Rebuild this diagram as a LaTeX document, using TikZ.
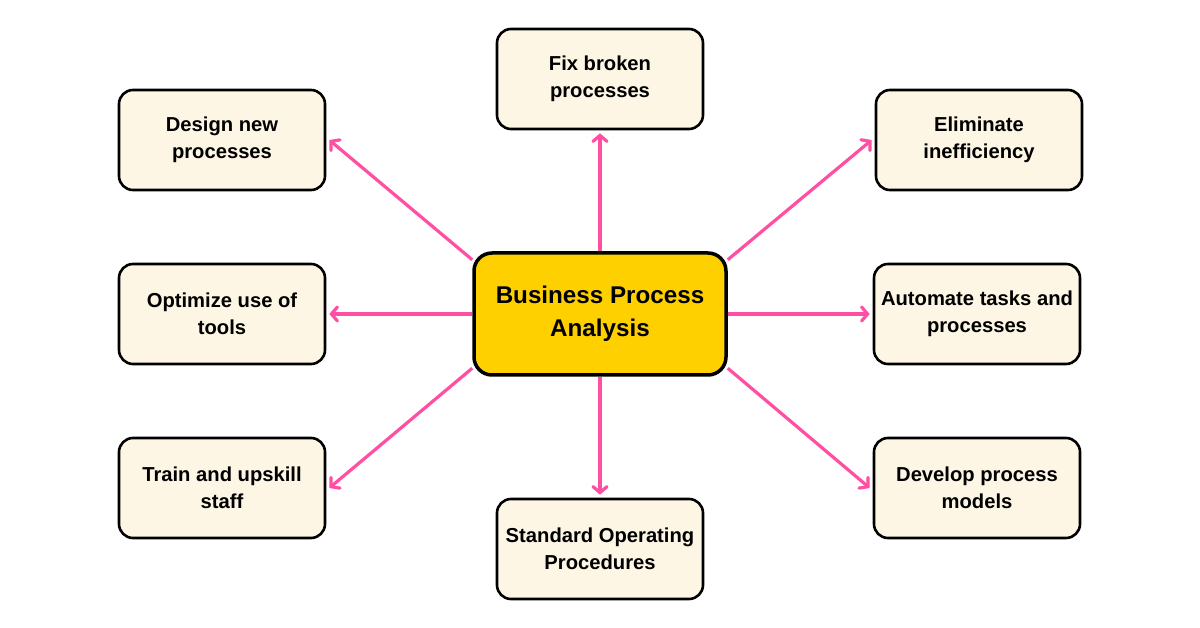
\documentclass[tikz,border=0pt]{standalone}
\usepackage{fontspec}
\setmainfont{Liberation Sans}
\usetikzlibrary{positioning, arrows.meta}

\definecolor{bpagold}{HTML}{FFD000}
\definecolor{bpacream}{HTML}{FDF6E4}
\definecolor{bpapink}{HTML}{FF4FA3}

\begin{document}
\begin{tikzpicture}
    [
        x=1pt, y=-1pt,
        node distance=174pt and 378pt, on grid,
        main_node/.style={rectangle, rounded corners=18pt, draw=black, fill=bpagold, line width=3.5pt, minimum width=252pt, minimum height=122pt, align=center, font=\fontsize{24.2}{33}\selectfont\bfseries},
        task_node/.style={rectangle, rounded corners=14pt, draw=black, fill=bpacream, line width=2.6pt, minimum width=206pt, minimum height=100pt, align=center, inner sep=2pt, font=\fontsize{20.2}{27}\selectfont\bfseries},
        pink_arrow/.style={-{Straight Barb[length=6pt, width=14pt, line cap=round]}, line width=3.2pt, color=bpapink},
    ]
        \useasboundingbox (0,0) rectangle (1200,628) ;
        \fill[white] (0,0) rectangle (1200,628) ;

        \node[main_node] (bpa) at (600,314) {Business Process\\Analysis} ;
        \node[task_node] (fix) [above = 235pt of bpa] {Fix broken\\processes} ;
        \node[task_node] (sop) [below = 235pt of bpa] {Standard Operating\\Procedures} ;
        \node[task_node] (design) [above left = of bpa] {Design new\\processes} ;
        \node[task_node] (optimize) [left = 378pt of bpa] {Optimize use of\\tools} ;
        \node[task_node] (train) [below left = of bpa] {Train and upskill\\staff} ;
        \node[task_node] (eliminate) [above right = 174pt and 379pt of bpa] {Eliminate\\inefficiency} ;
        \node[task_node] (automate) [right = 377pt of bpa] {Automate tasks and\\processes} ;
        \node[task_node] (develop) [below right = 174pt and 377pt of bpa] {Develop process\\models} ;

        \draw[pink_arrow] (bpa.north) to ([yshift=-3pt]fix.south) ;
        \draw[pink_arrow] (bpa.south) to ([yshift=3pt]sop.north) ;
        \draw[pink_arrow] (bpa.157) to ([xshift=3pt]design.east) ;
        \draw[pink_arrow] (bpa.west) to ([xshift=3pt]optimize.east) ;
        \draw[pink_arrow] (bpa.203) to ([xshift=3pt]train.east) ;
        \draw[pink_arrow] (bpa.23) to ([xshift=-3pt]eliminate.west) ;
        \draw[pink_arrow] (bpa.east) to ([xshift=-3pt]automate.west) ;
        \draw[pink_arrow] (bpa.337) to ([xshift=-3pt]develop.west) ;
    \end{tikzpicture}
\end{document}
